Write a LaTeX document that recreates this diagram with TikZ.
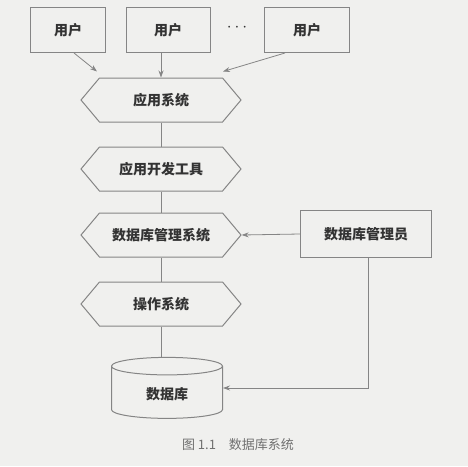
\documentclass[tikz,border=0pt]{standalone}
\usepackage{fontspec}
\newfontfamily\cjk{Noto Sans CJK SC}
\usetikzlibrary{shapes.symbols,shapes.geometric,arrows.meta}
\definecolor{paper}{HTML}{F0F0EE}
\definecolor{edge}{HTML}{858585}
\definecolor{ink}{HTML}{333333}

\begin{document}
\begin{tikzpicture}[x=1pt, y=-1pt,
  every node/.style = {font=\cjk\bfseries\fontsize{14}{16}\selectfont, text=ink},
  box/.style = {draw=edge, line width=1pt, fill=paper, minimum height=45pt},
  hexa/.style = {signal, signal to=west and east, signal pointer angle=100,
    draw=edge, line width=1pt, fill=paper, minimum width=160pt, minimum height=44pt},
  arr/.style = {draw=edge, line width=0.8pt, -{Stealth[length=7pt,width=5pt]}},
  link/.style = {draw=edge, line width=0.8pt}]
  \fill[paper] (0,0) rectangle (468,466);
  \useasboundingbox (0,0) rectangle (468,466);
  % users
  \node[box, minimum width=75pt] (user1) at (68,30) {用户};
  \node[box, minimum width=84pt] (user2) at (168,30) {用户};
  \node[font=\fontsize{16}{16}\selectfont] (dots) at (237,28) {$\cdots$};
  \node[box, minimum width=85pt] (user3) at (307,30) {用户};
  % layers
  \node[hexa] (app) at (161,100) {应用系统};
  \node[hexa] (tool) at (161,169) {应用开发工具};
  \node[hexa] (dbms) at (161,235) {数据库管理系统};
  \node[hexa] (os) at (161,304) {操作系统};
  \node[cylinder, shape border rotate=90, aspect=0.36, draw=edge, line width=1pt,
    fill=paper, minimum width=111pt, minimum height=61pt] (db) at (167,394) {数据库};
  \node[box, minimum width=131pt, minimum height=47pt] (dba) at (366,234) {数据库管理员};
  % connectors
  \draw[arr] ([xshift=6]user1.south) -- ([xshift=-64,yshift=6]app.north);
  \draw[arr] (app.north |- user2.south) -- (app.north);
  \draw[arr] ([xshift=-22]user3.south) -- ([xshift=62,yshift=6]app.north);
  \draw[link] (app.south) -- (tool.north);
  \draw[link] (tool.south) -- (dbms.north);
  \draw[link] (dbms.south) -- (os.north);
  \draw[link] (os.south) -- (os.south |- db.north);
  \draw[arr] (dba.west) -- (dbms.east);
  \draw[arr] ([xshift=2]dba.south) |- ([yshift=6]db.east);
  % caption
  \node[font=\cjk\fontsize{13}{15}\selectfont, text=ink!70] (caption) at (238,445) {图 1.1\quad 数据库系统};
\end{tikzpicture}
\end{document}
